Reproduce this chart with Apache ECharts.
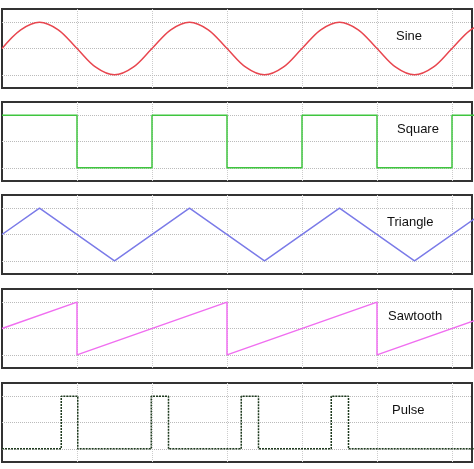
<!DOCTYPE html><html><head><meta charset="utf-8"><script src="https://cdn.jsdelivr.net/npm/echarts@6/dist/echarts.min.js"></script>
<style>body{margin:0;background:#fff}#c{width:474px;height:469px}</style></head><body><div id="c"></div><script>
const names=['Sine','Square','Triangle','Sawtooth','Pulse'];
const colors=['#e8464f','#3fc53f','#7b7be8','#f06ef0','#1e3a1e'];
const sineX=[0,0.25,0.5,0.75,1,1.25,1.5,1.75,2,2.25,2.5,2.75,3,3.25,3.5,3.75,4,4.25,4.5,4.75,5,5.25,5.5,5.75,6,6.25,6.5];
const sineY=[0,0.71,1,0.71,0,-0.71,-1,-0.71,0,0.71,1,0.71,0,-0.71,-1,-0.71,0,0.71,1,0.71,0,-0.71,-1,-0.71,0,0.71,1];
const squareX=[0,1,1,2,2,3,3,4,4,5,5,6,6,7];
const squareY=[1,1,-1,-1,1,1,-1,-1,1,1,-1,-1,1,1];
const triX=[0,0.5,1.5,2.5,3.5,4.5,5.5,6.5];
const triY=[0,1,-1,1,-1,1,-1,1];
const sawX=[0,1,1,3,3,5,5,7];
const sawY=[0,1,-1,1,-1,1,-1,1];
const pulseX=[0,0.79,0.79,1.01,1.01,1.99,1.99,2.22,2.22,3.19,3.19,3.42,3.42,4.39,4.39,4.62,4.62,7];
const pulseY=[-1,-1,1,1,-1,-1,1,1,-1,-1,1,1,-1,-1,1,1,-1,-1];
const hLines=[-1,0,1];
const sets=[[sineX,sineY],[squareX,squareY],[triX,triY],[sawX,sawY],[pulseX,pulseY]];
const tops=[9,102,195,289,383];
const grid=[],xAxis=[],yAxis=[],series=[],graphic=[];
sets.forEach((s,i)=>{
 grid.push({left:2,width:470,top:tops[i],height:79,show:true,borderColor:'#333',borderWidth:2,backgroundColor:'#fff'});
 xAxis.push({gridIndex:i,type:'value',min:0,max:470/75,interval:1,axisLine:{show:false},axisTick:{show:false},axisLabel:{show:false},splitLine:{show:true,showMinLine:false,showMaxLine:false,lineStyle:{color:'#ccc',type:'dotted'}}});
 yAxis.push({gridIndex:i,type:'value',min:-1.5,max:1.5,axisLine:{show:false},axisTick:{show:false},axisLabel:{show:false},splitLine:{show:false}});
 series.push({type:'line',xAxisIndex:i,yAxisIndex:i,data:s[0].map((x,j)=>[x,s[1][j]]),showSymbol:false,smooth:i===0?0.35:false,lineStyle:{color:colors[i],width:1.5,type:i===4?[2,1]:'solid'},z:3,
  markLine:{silent:true,symbol:'none',label:{show:false},lineStyle:{color:'#bbb',type:'dotted',width:1},data:hLines.map(v=>({yAxis:v})),z:1}});
 graphic.push({type:'text',left:[394,395,385,386,390][i],top:tops[i]+19,style:{text:names[i],fontSize:13,fontFamily:'Liberation Sans, Arial',fill:'#111',backgroundColor:'#fff',padding:[2,2]},z:10});
});
const ch=echarts.init(document.getElementById('c'));
ch.setOption({animation:false,grid,xAxis,yAxis,series,graphic});
</script></body></html>
